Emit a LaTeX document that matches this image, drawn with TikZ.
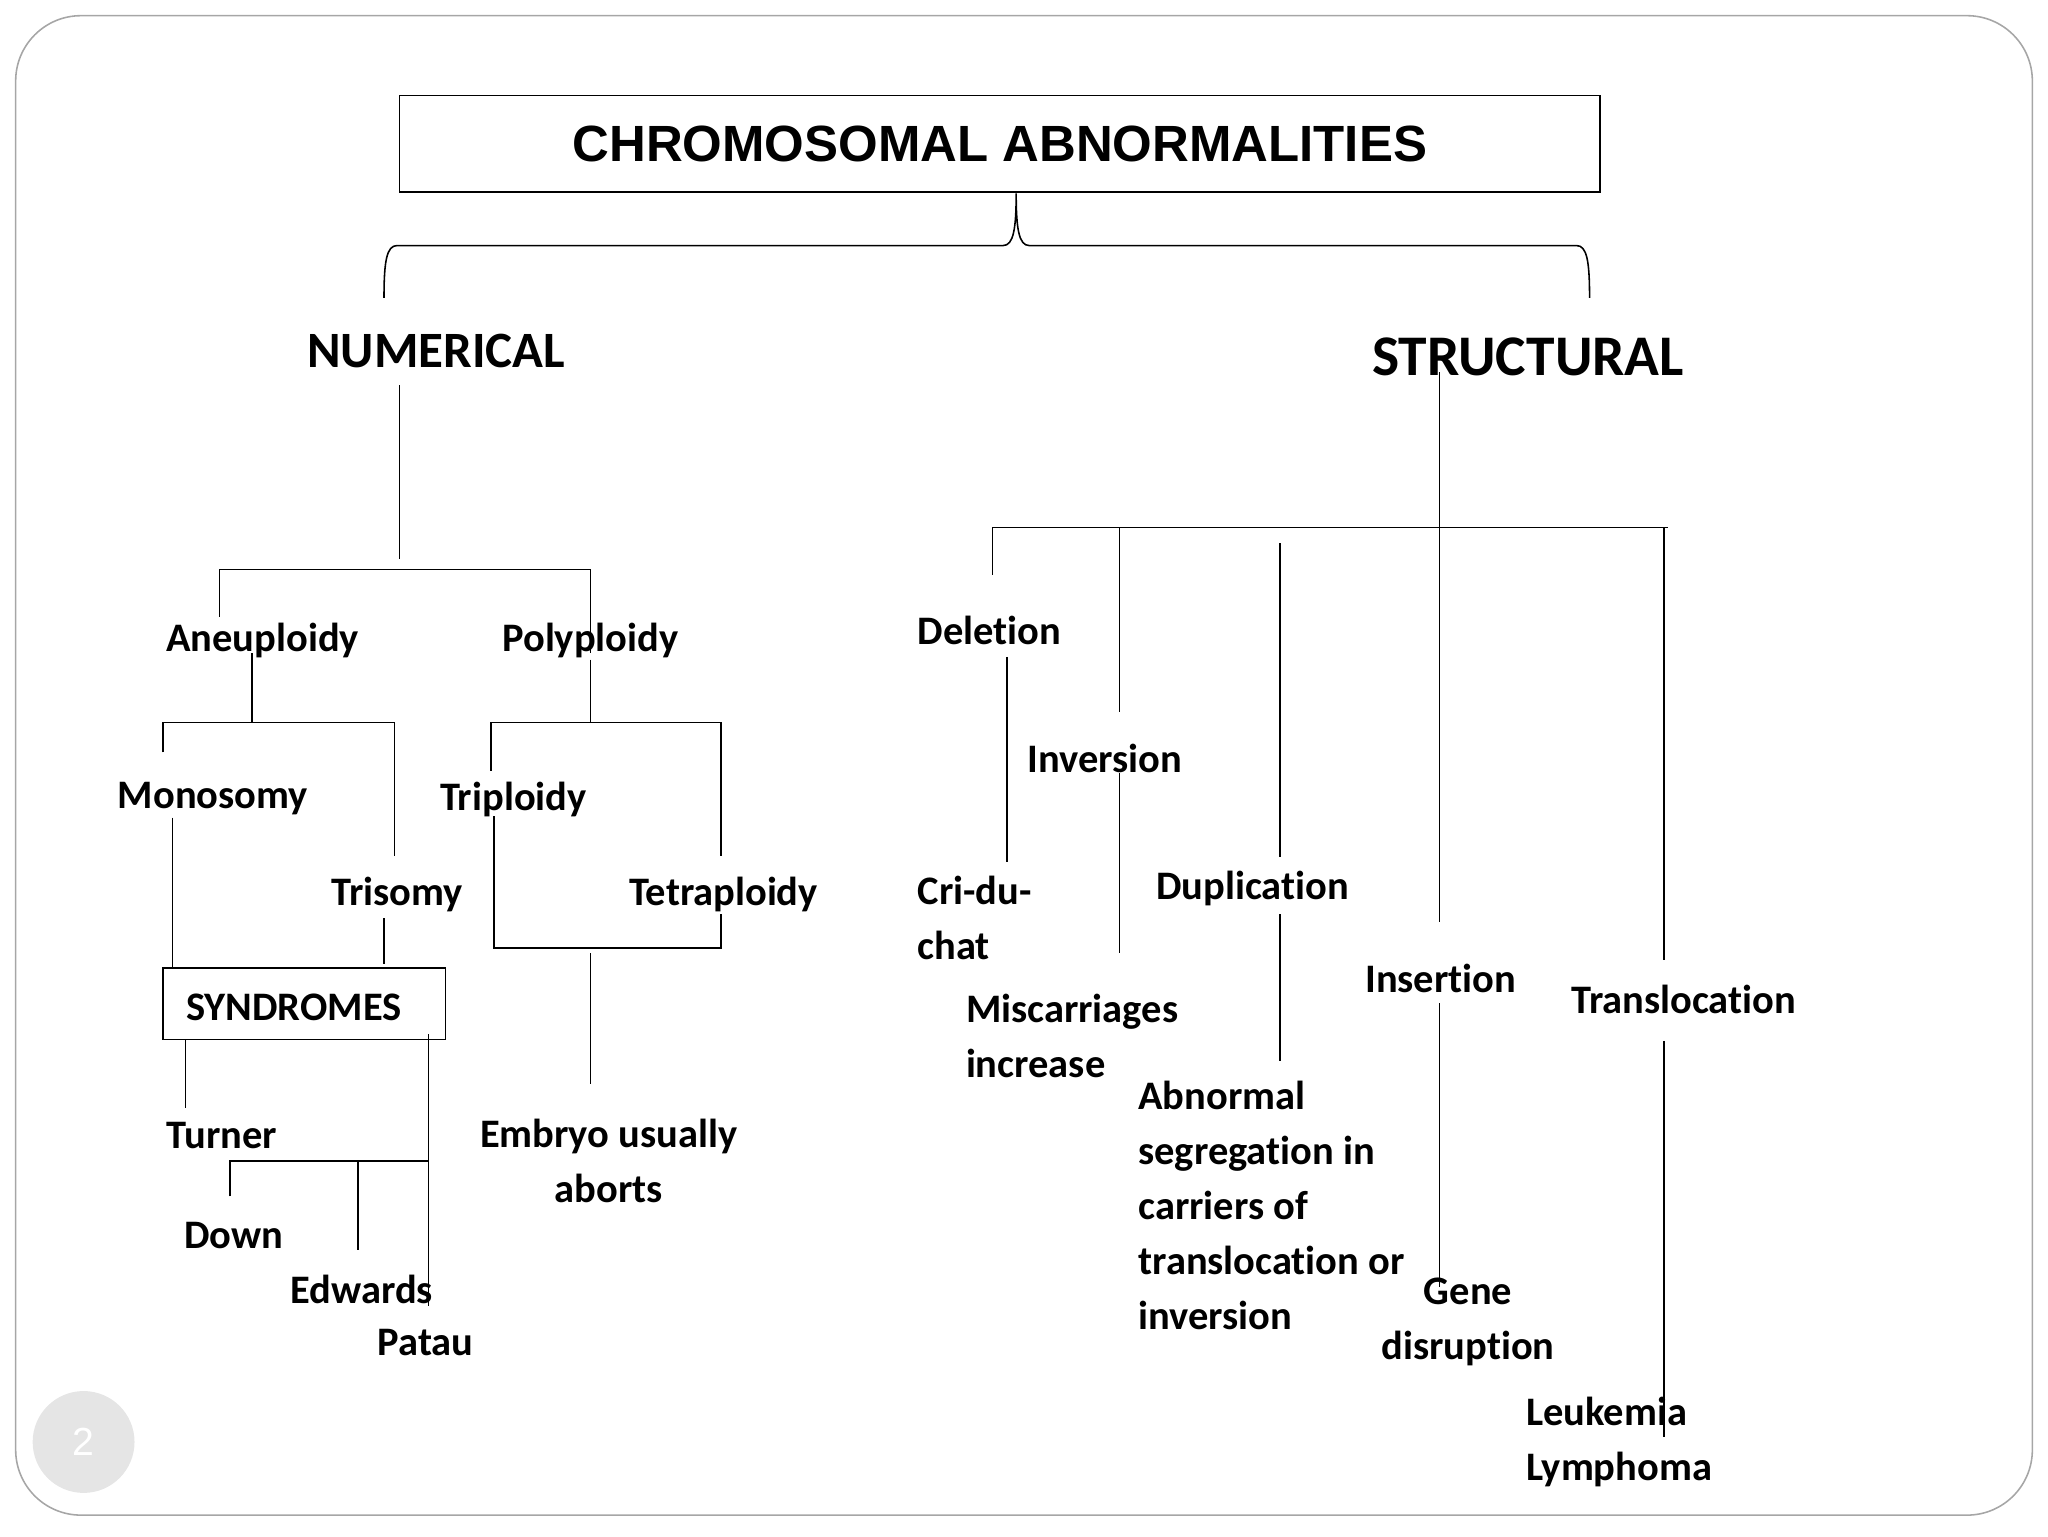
\documentclass[tikz,border=0pt]{standalone}
\usepackage{fontspec}
\setmainfont[Ligatures=NoCommon]{Carlito}
\newfontfamily\arialf{Liberation Sans}
\begin{document}
\begin{tikzpicture}[x=1pt,y=-1pt,line width=1.2pt,
  lbl/.style={font=\bfseries\fontsize{31}{42}\selectfont,inner sep=0pt},
  lbll/.style={lbl,anchor=west,align=left},
  ln/.style={draw,line width=1.2pt}]
\useasboundingbox (0,0) rectangle (1568,1176);
\draw[gray!70,line width=1.2pt,rounded corners=50] (12,12) rectangle (1556,1160);
\node[draw,minimum width=919,minimum height=74,inner sep=0] (title) at (765.5,110) {\arialf\bfseries\fontsize{39}{44}\selectfont CHROMOSOMAL ABNORMALITIES};
% brace
\draw (294,228) .. controls (294,200) and (296,188) .. (304,188) -- (768,188) .. controls (776,188) and (778,175) .. (778,148)
  .. controls (778,175) and (780,188) .. (788,188) -- (1207,188) .. controls (1215,188) and (1217,200) .. (1217,228);
\node[lbl,font=\bfseries\fontsize{39}{44}\selectfont] (num) at (334,269) {NUMERICAL};
\node[lbl,font=\bfseries\fontsize{44}{50}\selectfont] (str) at (1170,273) {STRUCTURAL};
% numerical
\node[lbl] (aneu) at (201,490) {Aneuploidy};
\node[lbl] (poly) at (452,490) {Polyploidy};
\node[lbl] (mono) at (163,611) {Monosomy};
\node[lbl] (tri) at (304,685) {Trisomy};
\node[lbl] (trip) at (393,612) {Triploidy};
\node[lbl] (tetra) at (554,685) {Tetraploidy};
\node[lbl,align=center] (emb) at (466,889) {Embryo usually\\aborts};
\node[draw,minimum width=216,minimum height=55,inner sep=0] (syn) at (233,768.5) {};
\node[lbll] (synt) at (142,771) {SYNDROMES};
\node[lbl] (turner) at (170,869) {Turner};
\node[lbl] (down) at (179,946) {Down};
\node[lbl] (edw) at (277,987) {Edwards};
\node[lbl] (pat) at (326,1028) {Patau};
\draw (306,295) -- (306,428);
\draw (168,472) -- (168,436) -- (452,436) -- (452,500);
\draw (193,500) -- (193,553);
\draw (125,576) -- (125,553) -- (302,553) -- (302,655);
\draw (452,505) -- (452,553);
\draw (376,590) -- (376,553) -- (552,553) -- (552,655);
\draw (378,625) -- (378,726) -- (552,726) -- (552,700);
\draw (452,730) -- (452,830);
\draw (132,626) -- (132,741);
\draw (294,703) -- (294,738);
\draw (142,796) -- (142,848);
\draw (328,792) -- (328,1000);
\draw (176,916) -- (176,889) -- (328,889);
\draw (274,889) -- (274,957);
% structural
\node[lbll] (del) at (702,483) {Deletion};
\node[lbl] (inv) at (846,581) {Inversion};
\node[lbl] (dup) at (959,680) {Duplication};
\node[lbl] (ins) at (1103,749) {Insertion};
\node[lbl] (trans) at (1289,765) {Translocation};
\node[lbll] (cri) at (702,703) {Cri-du-\\chat};
\node[lbll] (mis) at (739,793) {Miscarriages\\increase};
\node[lbll] (abn) at (871,923) {Abnormal\\segregation in\\carriers of\\translocation or\\inversion};
\node[lbl,align=center] (gene) at (1124,1012) {Gene\\disruption};
\node[lbll] (leuk) at (1168,1104) {Leukemia\\Lymphoma};
\draw (1102,285) -- (1102,706);
\draw (760,440) -- (760,404) -- (1277,404);
\draw (857,404) -- (857,545);
\draw (980,416) -- (980,656);
\draw (1274,404) -- (1274,735);
\draw (771,503) -- (771,660);
\draw (857,592) -- (857,730);
\draw (980,700) -- (980,812);
\draw (1102,768) -- (1102,985);
\draw (1274,797) -- (1274,1100);
\node[circle,fill=gray!20,minimum size=78,inner sep=0,text=white,font=\arialf\fontsize{30}{34}\selectfont] (pg) at (64,1104) {2};
\end{tikzpicture}
\end{document}
